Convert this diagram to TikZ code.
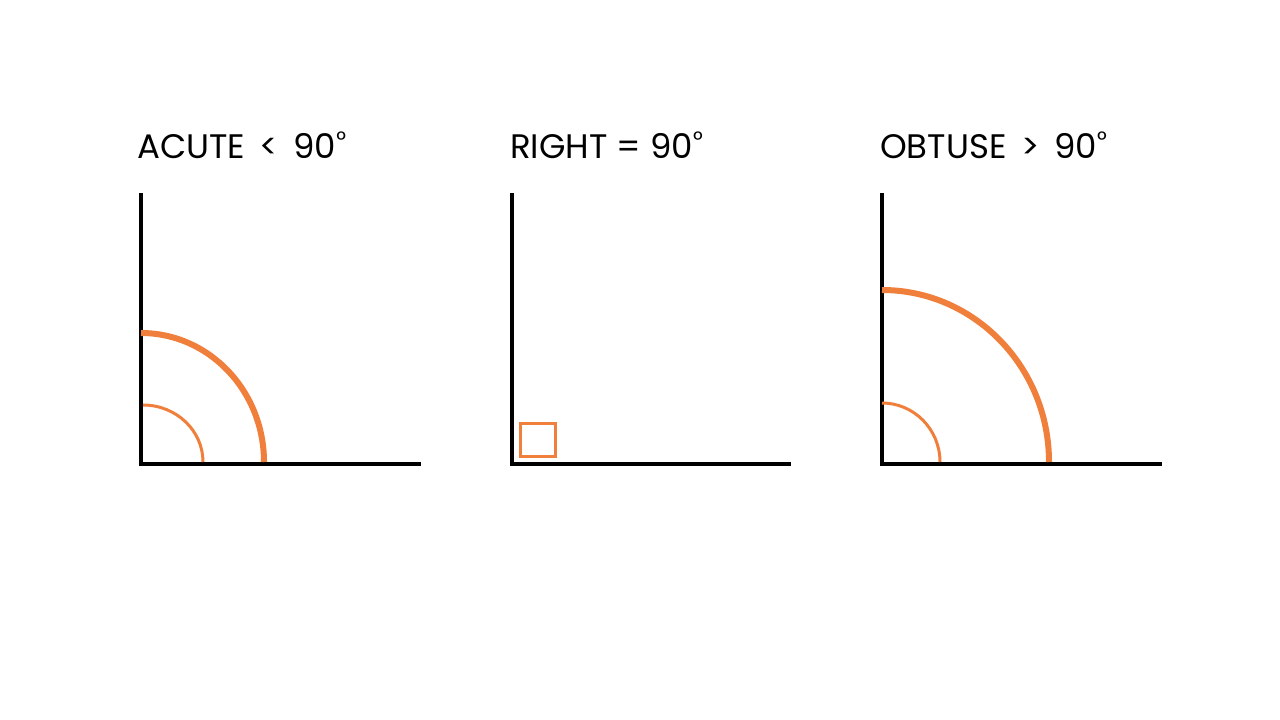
\documentclass[tikz,border=0pt]{standalone}
\usepackage{fontspec}
\setmainfont{Poppins}
\definecolor{org}{HTML}{F07F3C}
\begin{document}
\begin{tikzpicture}[x=1pt,y=-1pt,
  axis/.style={line width=4pt,black},
  thick arc/.style={line width=6pt,org},
  thin arc/.style={line width=3pt,org},
  title/.style={anchor=base west,inner sep=0pt,font=\fontsize{34}{40}\selectfont}]
\useasboundingbox (0,0) rectangle (1280,720);
\fill[white] (0,0) rectangle (1280,720);
% acute
\node[title] (t1) at (137,158) {ACUTE \,<\, 90\textsuperscript{°}};
\coordinate (o1) at (141,464);
\draw[axis] (141,193) -- (o1) -- (421,464);
\draw[thick arc] (264,462) arc[x radius=123,y radius=129,start angle=0,end angle=-90];
\draw[thin arc] (203,462) arc[x radius=60,y radius=57,start angle=0,end angle=-90];
% right
\node[title] (t2) at (510,158) {RIGHT = 90\textsuperscript{°}};
\coordinate (o2) at (512,464);
\draw[axis] (512,193) -- (o2) -- (791,464);
\draw[line width=3pt,org] (520,423) rectangle (555,456);
% obtuse
\node[title] (t3) at (880,158) {OBTUSE \,>\, 90\textsuperscript{°}};
\coordinate (o3) at (882,464);
\draw[axis] (882,193) -- (o3) -- (1162,464);
\draw[thick arc] (1049,462) arc[x radius=167,y radius=172,start angle=0,end angle=-90];
\draw[thin arc] (940,462) arc[x radius=58,y radius=59,start angle=0,end angle=-90];
\end{tikzpicture}
\end{document}
